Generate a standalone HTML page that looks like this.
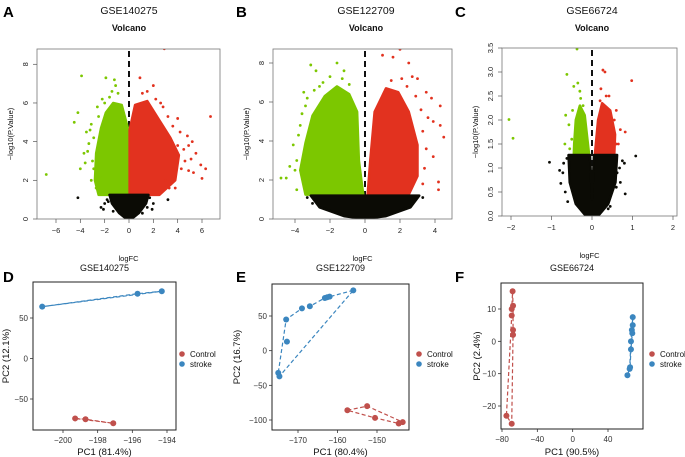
<!DOCTYPE html>
<html><head><meta charset="utf-8">
<style>
body{margin:0;background:#fff;}
svg{display:block;font-family:"Liberation Sans",Arial,sans-serif;}
</style></head>
<body>
<svg id="fig" width="685" height="457" viewBox="0 0 685 457" xmlns="http://www.w3.org/2000/svg"></svg>
<script>
// ===== Volcano data (logFC, -log10 P) =====
const aBlack=[[-1.6,1.25],[1.6,1.25],[1.4,0.8],[0.8,0.3],[0.2,0],[-0.2,0],[-0.8,0.3],[-1.4,0.8]];
const aGreen=[[-0.05,1.25],[-2.5,1.25],[-2.8,2],[-2.7,3.4],[-2.3,4.7],[-1.9,5.5],[-1.3,6.0],[-0.6,5.9],[-0.05,4.6]];
const aRed=[[0.05,1.25],[0.05,4.6],[0.5,5.9],[1.5,6.1],[2.5,5.1],[3.4,4.2],[4.1,3.3],[3.8,2],[2.5,1.25]];
const aGreenPts=[[-6.8,2.3],[-4,2.6],[-3.9,7.4],[-4.5,5],[-4.2,5.5],[-3.7,3.4],[-3.1,2],[-1.9,7.3],[-1.2,7.2],[-1.1,6.9],[-3.5,4.5],[-3.3,3.9],[-2.6,5.8],[-2.2,6.2],[-3.0,3.0],[-3.2,4.6],[-2.9,4.2],[-2.7,1.6],[-2.9,2.6],[-3.4,3.5],[-2.5,5.3],[-1.6,6.3],[-0.9,6.5],[-1.4,6.6],[-2.0,6.0],[-3.1,4.9],[-2.4,2.2],[-3.6,2.9]];
const aRedPts=[[2.9,8.8],[6.7,5.3],[6.3,2.6],[6,2.1],[5.9,2.8],[5.3,2.4],[4.9,2.5],[5.5,3.4],[5.2,4],[4.8,4.3],[4,5.2],[2,6.9],[0.9,7.3],[1.5,6.6],[4.3,2.6],[3.8,1.6],[4.5,3.6],[4.2,4.5],[3.6,4.8],[3.2,5.3],[2.8,5.8],[2.2,6.2],[1.1,6.5],[4.6,3.0],[3.0,2.0],[3.3,1.6],[4.0,3.8],[3.6,2.6],[4.9,3.8],[5.1,3.1],[2.6,6.0]];
const aBlackPts=[[-4.2,1.1],[3.2,1],[-2.3,0.6],[-2.1,0.5],[2,0.8],[1.9,0.5],[-1.8,1],[1.7,1.1],[-1.7,0.9],[1.5,0.6],[-1.3,0.4],[1.1,0.3],[-2,0.8]];
const bBlack=[[-3.1,1.2],[3.1,1.2],[2.6,0.6],[1.2,0.15],[0,0],[-1.2,0.15],[-2.6,0.6]];
const bGreen=[[-0.1,1.25],[-3.4,1.25],[-3.7,2.5],[-3.4,3.9],[-3,5.3],[-2.3,6.3],[-1.6,6.8],[-0.9,6.4],[-0.45,5.5],[-0.35,3]];
const bRed=[[0.15,1.25],[0.3,3],[0.55,5.5],[1.2,6.7],[1.9,6.5],[2.5,5.5],[3.0,3.8],[3.0,2.2],[2.5,1.25]];
const bGreenPts=[[-4.8,2.1],[-4.5,2.1],[-4.1,3.8],[-4.3,2.7],[-3.3,6.2],[-3.1,7.9],[-2.8,7.6],[-1.6,8],[-1.2,7.6],[-3.6,5.4],[-3.8,4.3],[-3.9,3.0],[-4.0,2.5],[-3.7,4.8],[-3.4,5.8],[-2.9,6.6],[-2.4,7.0],[-2.0,7.3],[-1.3,7.2],[-0.9,6.9],[-3.9,1.5],[-3.5,6.5],[-2.6,6.8]];
const bRedPts=[[2,8.7],[1,8.4],[1.6,8.3],[2.5,8],[3,7.2],[4.2,1.9],[4.2,1.5],[4.5,4.2],[4.3,4.8],[4.3,5.8],[3.9,3.2],[3.5,6.5],[3.8,6.2],[2.7,7.3],[3.3,4.5],[3.5,3.6],[3.4,2.6],[3.2,5.6],[2.9,6.3],[2.4,6.8],[3.6,5.2],[3.3,1.8],[3.9,5.0],[2.1,7.2],[1.5,7.1]];
const bBlackPts=[[-3.3,1.1],[-2.8,0.9],[3.3,1.1],[2.9,1],[-3,0.8],[2.7,0.8],[-2.2,0.5],[2.2,0.5],[-1.6,0.3],[1.7,0.35]];
const cBlack=[[-0.58,1.27],[-0.05,1.27],[0,0.35],[0.05,1.27],[0.62,1.27],[0.58,0.7],[0.4,0.25],[0.15,0],[-0.15,0],[-0.4,0.25],[-0.55,0.7]];
const cGreen=[[-0.45,1.27],[-0.07,1.27],[-0.18,2.1],[-0.3,2.3],[-0.4,2.0],[-0.44,1.5]];
const cRed=[[0.07,1.27],[0.55,1.27],[0.57,1.7],[0.45,2.2],[0.25,2.35],[0.15,2.0]];
const cGreenPts=[[-2.05,2.01],[-1.95,1.62],[-0.62,2.95],[-0.37,3.48],[-0.45,2.7],[-0.65,2.1],[-0.57,1.9],[-0.67,1.5],[-0.35,2.77],[-0.3,2.6],[-0.28,2.45],[-0.22,2.3],[-0.5,1.6],[-0.55,1.4],[-0.48,2.2]];
const cRedPts=[[0.27,3.04],[0.32,3.0],[0.98,2.82],[0.82,1.75],[0.7,1.8],[0.22,2.65],[0.6,2.2],[0.35,2.5],[0.42,2.5],[0.6,1.5],[0.65,1.5],[0.55,2.0],[0.2,2.4]];
const cBlackPts=[[-1.05,1.12],[1.08,1.25],[0.82,0.46],[-0.77,0.68],[-0.8,0.95],[0.6,0.6],[0.4,0.15],[-0.7,1.1],[-0.72,0.9],[-0.66,0.5],[0.68,1.0],[0.75,1.15],[0.62,0.9],[-0.6,0.3],[0.7,0.7],[0.45,0.2],[-0.62,1.2],[0.8,1.1]];

// ===== PCA data =====
const dStroke=[[-201.2,64],[-195.7,80],[-194.3,83]];
const dCtrl=[[-199.3,-74],[-198.7,-75],[-197.1,-80]];
const eStroke=[[-156,87],[-162,78],[-162.6,77],[-163.2,76],[-167,64],[-169,61],[-173,45],[-172.8,13],[-175,-32],[-174.7,-37]];
const eStrokeHull=[[-156,87],[-163.2,76],[-167,64],[-169,61],[-173,45],[-175,-32],[-174.7,-37]];
const eCtrl=[[-157.5,-86],[-152.5,-80],[-150.5,-97],[-144.5,-105],[-143.5,-103]];
const eCtrlHull=[[-157.5,-86],[-152.5,-80],[-143.5,-103],[-144.5,-105],[-150.5,-97]];
const fCtrl=[[-68,15.5],[-67.5,11],[-69,10],[-69,8],[-67.5,3.5],[-67.5,2],[-75,-23],[-69,-25.5]];
const fCtrlHull=[[-68,15.5],[-67.5,11],[-67.5,2],[-69,-25.5],[-75,-23],[-69,8],[-69,10]];
const fStroke=[[68,7.5],[68,5],[67,3.5],[67.5,2.5],[66,0],[66,-2.5],[65,-8],[64.5,-8.5],[62,-10.5]];
const fStrokeHull=[[68,7.5],[68,5],[67.5,2.5],[66,-2.5],[65,-8],[62,-10.5],[64.5,-8.5],[66,0],[67,3.5]];

const dXTicks=[-200,-198,-196,-194], dYTicks=[50,0,-50];
const eXTicks=[-170,-160,-150], eYTicks=[50,0,-50,-100];
const fXTicks=[-80,-40,0,40], fYTicks=[10,0,-10,-20];
const aXTicks=[-6,-4,-2,0,2,4,6], aYTicks=[0,2,4,6,8];
const bXTicks=[-4,-2,0,2,4], bYTicks=[0,2,4,6,8];
const cXTicks=[-2,-1,0,1,2], cYTicks=["0.0","0.5","1.0","1.5","2.0","2.5","3.0","3.5"];

const NS="http://www.w3.org/2000/svg";
const svg=document.getElementById('fig');
function mk(tag,attrs,parent){const e=document.createElementNS(NS,tag);for(const k in attrs)e.setAttribute(k,attrs[k]);(parent||svg).appendChild(e);return e;}
function txt(s,x,y,size,opts,parent){const e=mk('text',Object.assign({x:x,y:y,'font-size':size,'text-anchor':'middle',fill:'#111'},opts||{}),parent);e.textContent=s;return e;}
function lin(x0,x1,p0,p1){return v=>p0+(v-x0)*(p1-p0)/(x1-x0);}

function volcano(o){
  const g=mk('g',{});
  
  
  const X=lin(o.xr[0],o.xr[1],o.px[0],o.px[1]), Y=lin(o.yr[0],o.yr[1],o.py[0],o.py[1]);
  const lt=txt(o.letter,o.lx,17,15,{'font-weight':'bold','text-anchor':'start',fill:'#000'},g);
  
  const t=txt(o.title,o.tx,14,10.5,{},g);
  const v=txt('Volcano',o.tx,31,9,{'font-weight':'bold'},g);
  const cl=mk('clipPath',{id:'clip'+o.letter},g);mk('rect',{x:o.bx[0],y:o.by[0],width:o.bx[1]-o.bx[0],height:o.by[1]-o.by[0]},cl);
  const pg=mk('g',{'clip-path':'url(#clip'+o.letter+')'},g);
  const dl=mk('line',{x1:X(0),x2:X(0),y1:o.by[0]+2,y2:o.by[1],stroke:'#111','stroke-width':2,'stroke-dasharray':'6,4'},pg);
  
  const poly=(arr,col,nm)=>{const p=mk('polygon',{points:arr.map(d=>X(d[0])+','+Y(d[1])).join(' '),fill:col,stroke:col,'stroke-width':2.5,'stroke-linejoin':'round'},pg);};
  poly(o.green,'#7cc700','down-regulated-cloud');
  poly(o.red,'#e2321f','up-regulated-cloud');
  poly(o.black,'#0b0b05','not-significant-cloud');
  const pts=(arr,col,nm)=>arr.forEach(d=>{const c=mk('circle',{cx:X(d[0]),cy:Y(d[1]),r:1.4,fill:col},pg);});
  pts(o.gp,'#7cc700','down-gene-point');pts(o.rp,'#e2321f','up-gene-point');pts(o.kp,'#0b0b05','ns-gene-point');
  const fr=mk('rect',{x:o.bx[0],y:o.by[0],width:o.bx[1]-o.bx[0],height:o.by[1]-o.by[0],fill:'none',stroke:'#777','stroke-width':0.8},g);
  
  o.xt.forEach(v=>{const x=X(+v);mk('line',{x1:x,x2:x,y1:o.by[1],y2:o.by[1]+4,stroke:'#555','stroke-width':0.7},g);const l=txt(String(v).replace('-','\u2212'),x,o.by[1]+14,7.5,{fill:'#222'},g);});
  o.yt.forEach(v=>{const y=Y(+v);mk('line',{x1:o.bx[0]-4,x2:o.bx[0],y1:y,y2:y,stroke:'#555','stroke-width':0.7},g);const xx=o.bx[0]-9;const l=txt(String(v),xx,y,7.5,{fill:'#222',transform:'rotate(-90 '+xx+' '+y+')'},g);});
  const xl=txt('logFC',(o.bx[0]+o.bx[1])/2,o.by[1]+42,7.5,{},g);
  const ym=(o.by[0]+o.by[1])/2, yx=o.bx[0]-24;
  const yl=txt('\u2212log10(P.Value)',yx,ym,7.5,{transform:'rotate(-90 '+yx+' '+ym+')'},g);
}

volcano({name:'volcano-gse140275',letter:'A',lx:3,title:'GSE140275',tx:129,xr:[0,6],px:[129,202],yr:[0,8],py:[219,64.3],bx:[37,220],by:[49,219],green:aGreen,red:aRed,black:aBlack,gp:aGreenPts,rp:aRedPts,kp:aBlackPts,xt:aXTicks,yt:aYTicks});
volcano({name:'volcano-gse122709',letter:'B',lx:236,title:'GSE122709',tx:366,xr:[0,4],px:[365,435],yr:[0,8],py:[219,63],bx:[273,452],by:[49,219],green:bGreen,red:bRed,black:bBlack,gp:bGreenPts,rp:bRedPts,kp:bBlackPts,xt:bXTicks,yt:bYTicks});
volcano({name:'volcano-gse66724',letter:'C',lx:455,title:'GSE66724',tx:592,xr:[0,2],px:[592,673],yr:[0,3.5],py:[216,48],bx:[502,677],by:[48,216],green:cGreen,red:cRed,black:cBlack,gp:cGreenPts,rp:cRedPts,kp:cBlackPts,xt:cXTicks,yt:cYTicks});

function pca(o){
  const g=mk('g',{});
  
  
  const X=lin(o.xr[0],o.xr[1],o.px[0],o.px[1]), Y=lin(o.yr[0],o.yr[1],o.py[0],o.py[1]);
  const lt=txt(o.letter,o.lx,282,15,{'font-weight':'bold','text-anchor':'start',fill:'#000'},g);
  
  const t=txt(o.title,(o.bx[0]+o.bx[1])/2,271,9,{},g);
  const hull=(arr,col,nm)=>{const p=mk('polygon',{points:arr.map(d=>X(d[0])+','+Y(d[1])).join(' '),fill:'none',stroke:col,'stroke-width':1.2,'stroke-dasharray':'4,2.5'},g);};
  hull(o.sh,'#3b86bf','stroke-hull');hull(o.ch,'#c0504c','control-hull');
  const pts=(arr,col,nm)=>arr.forEach(d=>{const c=mk('circle',{cx:X(d[0]),cy:Y(d[1]),r:3,fill:col},g);});
  pts(o.s,'#3b86bf','stroke-sample-point');pts(o.c,'#c0504c','control-sample-point');
  const fr=mk('rect',{x:o.bx[0],y:o.by[0],width:o.bx[1]-o.bx[0],height:o.by[1]-o.by[0],fill:'none',stroke:'#222','stroke-width':1},g);
  
  o.xt.forEach(v=>{const x=X(v);mk('line',{x1:x,x2:x,y1:o.by[1],y2:o.by[1]+3,stroke:'#333','stroke-width':0.8},g);const l=txt(String(v).replace('-','\u2212'),x,o.by[1]+13,8,{fill:'#333'},g);});
  o.yt.forEach(v=>{const y=Y(v);mk('line',{x1:o.bx[0]-3,x2:o.bx[0],y1:y,y2:y,stroke:'#333','stroke-width':0.8},g);const l=txt(String(v).replace('-','\u2212'),o.bx[0]-5,y+3,8,{fill:'#333','text-anchor':'end'},g);});
  const xl=txt(o.xlab,(o.bx[0]+o.bx[1])/2,455,9.5,{},g);
  const ym=(o.by[0]+o.by[1])/2, yx=o.ylx;
  const yl=txt(o.ylab,yx,ym,9.5,{transform:'rotate(-90 '+yx+' '+ym+')'},g);
  const lg=mk('g',{},g);
  mk('circle',{cx:o.legx,cy:354,r:2.8,fill:'#c0504c'},lg);
  mk('circle',{cx:o.legx,cy:364,r:2.8,fill:'#3b86bf'},lg);
  const l1=txt('Control',o.legx+8,357,8,{'text-anchor':'start'},lg);
  const l2=txt('stroke',o.legx+8,367,8,{'text-anchor':'start'},lg);
}

pca({name:'pca-gse140275',letter:'D',lx:3,title:'GSE140275',xr:[-200,-194],px:[63,167],yr:[50,-50],py:[318,399],bx:[33,176],by:[282,430],s:dStroke,c:dCtrl,sh:dStroke,ch:dCtrl,xt:dXTicks,yt:dYTicks,xlab:'PC1 (81.4%)',ylab:'PC2 (12.1%)',ylx:9,legx:182});
pca({name:'pca-gse122709',letter:'E',lx:236,title:'GSE122709',xr:[-170,-150],px:[298,377],yr:[50,-100],py:[316,420],bx:[272,409],by:[284,430],s:eStroke,c:eCtrl,sh:eStrokeHull,ch:eCtrlHull,xt:eXTicks,yt:eYTicks,xlab:'PC1 (80.4%)',ylab:'PC2 (16.7%)',ylx:240,legx:419});
pca({name:'pca-gse66724',letter:'F',lx:455,title:'GSE66724',xr:[-80,40],px:[502,608],yr:[10,-20],py:[309,406],bx:[501,643],by:[283,429],s:fStroke,c:fCtrl,sh:fStrokeHull,ch:fCtrlHull,xt:fXTicks,yt:fYTicks,xlab:'PC1 (90.5%)',ylab:'PC2 (2.4%)',ylx:480,legx:652});
</script>
</body></html>
